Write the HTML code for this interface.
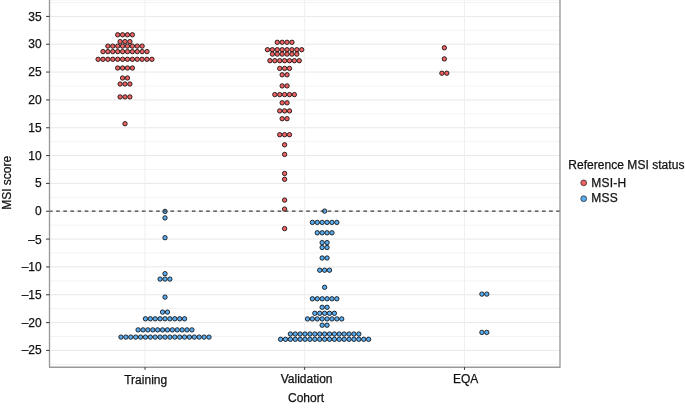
<!DOCTYPE html>
<html><head><meta charset="utf-8"><title>MSI score by cohort</title>
<style>
html,body{margin:0;padding:0;background:#fff;width:685px;height:408px;overflow:hidden}
svg{display:block}
</style></head><body>
<svg width="685" height="408" viewBox="0 0 685 408">
<rect x="0" y="0" width="685" height="408" fill="#fff"/>
<line x1="49.5" x2="560.0" y1="364.34" y2="364.34" stroke="#f3f3f3" stroke-width="1"/>
<line x1="49.5" x2="560.0" y1="350.43" y2="350.43" stroke="#e8e8e8" stroke-width="1"/>
<line x1="49.5" x2="560.0" y1="336.51" y2="336.51" stroke="#f3f3f3" stroke-width="1"/>
<line x1="49.5" x2="560.0" y1="322.59" y2="322.59" stroke="#e8e8e8" stroke-width="1"/>
<line x1="49.5" x2="560.0" y1="308.67" y2="308.67" stroke="#f3f3f3" stroke-width="1"/>
<line x1="49.5" x2="560.0" y1="294.75" y2="294.75" stroke="#e8e8e8" stroke-width="1"/>
<line x1="49.5" x2="560.0" y1="280.84" y2="280.84" stroke="#f3f3f3" stroke-width="1"/>
<line x1="49.5" x2="560.0" y1="266.92" y2="266.92" stroke="#e8e8e8" stroke-width="1"/>
<line x1="49.5" x2="560.0" y1="253.00" y2="253.00" stroke="#f3f3f3" stroke-width="1"/>
<line x1="49.5" x2="560.0" y1="239.09" y2="239.09" stroke="#e8e8e8" stroke-width="1"/>
<line x1="49.5" x2="560.0" y1="225.17" y2="225.17" stroke="#f3f3f3" stroke-width="1"/>
<line x1="49.5" x2="560.0" y1="211.25" y2="211.25" stroke="#e8e8e8" stroke-width="1"/>
<line x1="49.5" x2="560.0" y1="197.33" y2="197.33" stroke="#f3f3f3" stroke-width="1"/>
<line x1="49.5" x2="560.0" y1="183.41" y2="183.41" stroke="#e8e8e8" stroke-width="1"/>
<line x1="49.5" x2="560.0" y1="169.50" y2="169.50" stroke="#f3f3f3" stroke-width="1"/>
<line x1="49.5" x2="560.0" y1="155.58" y2="155.58" stroke="#e8e8e8" stroke-width="1"/>
<line x1="49.5" x2="560.0" y1="141.66" y2="141.66" stroke="#f3f3f3" stroke-width="1"/>
<line x1="49.5" x2="560.0" y1="127.75" y2="127.75" stroke="#e8e8e8" stroke-width="1"/>
<line x1="49.5" x2="560.0" y1="113.83" y2="113.83" stroke="#f3f3f3" stroke-width="1"/>
<line x1="49.5" x2="560.0" y1="99.91" y2="99.91" stroke="#e8e8e8" stroke-width="1"/>
<line x1="49.5" x2="560.0" y1="85.99" y2="85.99" stroke="#f3f3f3" stroke-width="1"/>
<line x1="49.5" x2="560.0" y1="72.07" y2="72.07" stroke="#e8e8e8" stroke-width="1"/>
<line x1="49.5" x2="560.0" y1="58.16" y2="58.16" stroke="#f3f3f3" stroke-width="1"/>
<line x1="49.5" x2="560.0" y1="44.24" y2="44.24" stroke="#e8e8e8" stroke-width="1"/>
<line x1="49.5" x2="560.0" y1="30.32" y2="30.32" stroke="#f3f3f3" stroke-width="1"/>
<line x1="49.5" x2="560.0" y1="16.41" y2="16.41" stroke="#e8e8e8" stroke-width="1"/>
<line x1="49.5" x2="560.0" y1="2.49" y2="2.49" stroke="#f3f3f3" stroke-width="1"/>
<line x1="145.0" x2="145.0" y1="-0.7" y2="367.2" stroke="#efefef" stroke-width="1"/>
<line x1="304.65" x2="304.65" y1="-0.7" y2="367.2" stroke="#efefef" stroke-width="1"/>
<line x1="464.5" x2="464.5" y1="-0.7" y2="367.2" stroke="#efefef" stroke-width="1"/>
<rect x="49.5" y="0" width="510.50" height="0.6" fill="#f4f4f4"/>
<g stroke="#000" stroke-width="0.8">
<circle cx="117.67" cy="34.80" r="2.2" fill="#EE6363"/>
<circle cx="122.56" cy="34.80" r="2.2" fill="#EE6363"/>
<circle cx="127.44" cy="34.80" r="2.2" fill="#EE6363"/>
<circle cx="132.34" cy="34.80" r="2.2" fill="#EE6363"/>
<circle cx="120.11" cy="41.60" r="2.2" fill="#EE6363"/>
<circle cx="125.00" cy="41.60" r="2.2" fill="#EE6363"/>
<circle cx="129.89" cy="41.60" r="2.2" fill="#EE6363"/>
<circle cx="107.89" cy="46.10" r="2.2" fill="#EE6363"/>
<circle cx="112.78" cy="46.10" r="2.2" fill="#EE6363"/>
<circle cx="117.67" cy="46.10" r="2.2" fill="#EE6363"/>
<circle cx="122.56" cy="46.10" r="2.2" fill="#EE6363"/>
<circle cx="127.44" cy="46.10" r="2.2" fill="#EE6363"/>
<circle cx="132.34" cy="46.10" r="2.2" fill="#EE6363"/>
<circle cx="137.22" cy="46.10" r="2.2" fill="#EE6363"/>
<circle cx="142.12" cy="46.10" r="2.2" fill="#EE6363"/>
<circle cx="103.00" cy="51.60" r="2.2" fill="#EE6363"/>
<circle cx="107.89" cy="51.60" r="2.2" fill="#EE6363"/>
<circle cx="112.78" cy="51.60" r="2.2" fill="#EE6363"/>
<circle cx="117.67" cy="51.60" r="2.2" fill="#EE6363"/>
<circle cx="122.56" cy="51.60" r="2.2" fill="#EE6363"/>
<circle cx="127.44" cy="51.60" r="2.2" fill="#EE6363"/>
<circle cx="132.34" cy="51.60" r="2.2" fill="#EE6363"/>
<circle cx="137.22" cy="51.60" r="2.2" fill="#EE6363"/>
<circle cx="142.12" cy="51.60" r="2.2" fill="#EE6363"/>
<circle cx="147.00" cy="51.60" r="2.2" fill="#EE6363"/>
<circle cx="98.11" cy="59.30" r="2.2" fill="#EE6363"/>
<circle cx="103.00" cy="59.30" r="2.2" fill="#EE6363"/>
<circle cx="107.89" cy="59.30" r="2.2" fill="#EE6363"/>
<circle cx="112.78" cy="59.30" r="2.2" fill="#EE6363"/>
<circle cx="117.67" cy="59.30" r="2.2" fill="#EE6363"/>
<circle cx="122.56" cy="59.30" r="2.2" fill="#EE6363"/>
<circle cx="127.44" cy="59.30" r="2.2" fill="#EE6363"/>
<circle cx="132.34" cy="59.30" r="2.2" fill="#EE6363"/>
<circle cx="137.22" cy="59.30" r="2.2" fill="#EE6363"/>
<circle cx="142.12" cy="59.30" r="2.2" fill="#EE6363"/>
<circle cx="147.00" cy="59.30" r="2.2" fill="#EE6363"/>
<circle cx="151.90" cy="59.30" r="2.2" fill="#EE6363"/>
<circle cx="117.67" cy="68.00" r="2.2" fill="#EE6363"/>
<circle cx="122.56" cy="68.00" r="2.2" fill="#EE6363"/>
<circle cx="127.44" cy="68.00" r="2.2" fill="#EE6363"/>
<circle cx="132.34" cy="68.00" r="2.2" fill="#EE6363"/>
<circle cx="122.56" cy="78.00" r="2.2" fill="#EE6363"/>
<circle cx="127.44" cy="78.00" r="2.2" fill="#EE6363"/>
<circle cx="120.11" cy="84.00" r="2.2" fill="#EE6363"/>
<circle cx="125.00" cy="84.00" r="2.2" fill="#EE6363"/>
<circle cx="129.89" cy="84.00" r="2.2" fill="#EE6363"/>
<circle cx="120.11" cy="96.90" r="2.2" fill="#EE6363"/>
<circle cx="125.00" cy="96.90" r="2.2" fill="#EE6363"/>
<circle cx="129.89" cy="96.90" r="2.2" fill="#EE6363"/>
<circle cx="125.00" cy="123.70" r="2.2" fill="#EE6363"/>
<circle cx="277.27" cy="42.30" r="2.2" fill="#EE6363"/>
<circle cx="282.16" cy="42.30" r="2.2" fill="#EE6363"/>
<circle cx="287.05" cy="42.30" r="2.2" fill="#EE6363"/>
<circle cx="291.94" cy="42.30" r="2.2" fill="#EE6363"/>
<circle cx="267.49" cy="49.70" r="2.2" fill="#EE6363"/>
<circle cx="272.38" cy="49.70" r="2.2" fill="#EE6363"/>
<circle cx="277.27" cy="49.70" r="2.2" fill="#EE6363"/>
<circle cx="282.16" cy="49.70" r="2.2" fill="#EE6363"/>
<circle cx="287.05" cy="49.70" r="2.2" fill="#EE6363"/>
<circle cx="291.94" cy="49.70" r="2.2" fill="#EE6363"/>
<circle cx="296.83" cy="49.70" r="2.2" fill="#EE6363"/>
<circle cx="301.72" cy="49.70" r="2.2" fill="#EE6363"/>
<circle cx="272.38" cy="54.10" r="2.2" fill="#EE6363"/>
<circle cx="277.27" cy="54.10" r="2.2" fill="#EE6363"/>
<circle cx="282.16" cy="54.10" r="2.2" fill="#EE6363"/>
<circle cx="287.05" cy="54.10" r="2.2" fill="#EE6363"/>
<circle cx="291.94" cy="54.10" r="2.2" fill="#EE6363"/>
<circle cx="296.83" cy="54.10" r="2.2" fill="#EE6363"/>
<circle cx="269.93" cy="60.70" r="2.2" fill="#EE6363"/>
<circle cx="274.82" cy="60.70" r="2.2" fill="#EE6363"/>
<circle cx="279.71" cy="60.70" r="2.2" fill="#EE6363"/>
<circle cx="284.60" cy="60.70" r="2.2" fill="#EE6363"/>
<circle cx="289.49" cy="60.70" r="2.2" fill="#EE6363"/>
<circle cx="294.38" cy="60.70" r="2.2" fill="#EE6363"/>
<circle cx="299.27" cy="60.70" r="2.2" fill="#EE6363"/>
<circle cx="279.71" cy="68.40" r="2.2" fill="#EE6363"/>
<circle cx="284.60" cy="68.40" r="2.2" fill="#EE6363"/>
<circle cx="289.49" cy="68.40" r="2.2" fill="#EE6363"/>
<circle cx="282.16" cy="74.80" r="2.2" fill="#EE6363"/>
<circle cx="287.05" cy="74.80" r="2.2" fill="#EE6363"/>
<circle cx="282.16" cy="85.90" r="2.2" fill="#EE6363"/>
<circle cx="287.05" cy="85.90" r="2.2" fill="#EE6363"/>
<circle cx="274.82" cy="94.60" r="2.2" fill="#EE6363"/>
<circle cx="279.71" cy="94.60" r="2.2" fill="#EE6363"/>
<circle cx="284.60" cy="94.60" r="2.2" fill="#EE6363"/>
<circle cx="289.49" cy="94.60" r="2.2" fill="#EE6363"/>
<circle cx="294.38" cy="94.60" r="2.2" fill="#EE6363"/>
<circle cx="282.16" cy="102.80" r="2.2" fill="#EE6363"/>
<circle cx="287.05" cy="102.80" r="2.2" fill="#EE6363"/>
<circle cx="279.71" cy="110.90" r="2.2" fill="#EE6363"/>
<circle cx="284.60" cy="110.90" r="2.2" fill="#EE6363"/>
<circle cx="289.49" cy="110.90" r="2.2" fill="#EE6363"/>
<circle cx="282.16" cy="118.70" r="2.2" fill="#EE6363"/>
<circle cx="287.05" cy="118.70" r="2.2" fill="#EE6363"/>
<circle cx="279.71" cy="134.70" r="2.2" fill="#EE6363"/>
<circle cx="284.60" cy="134.70" r="2.2" fill="#EE6363"/>
<circle cx="289.49" cy="134.70" r="2.2" fill="#EE6363"/>
<circle cx="284.60" cy="144.80" r="2.2" fill="#EE6363"/>
<circle cx="284.60" cy="154.40" r="2.2" fill="#EE6363"/>
<circle cx="284.60" cy="173.50" r="2.2" fill="#EE6363"/>
<circle cx="284.60" cy="179.30" r="2.2" fill="#EE6363"/>
<circle cx="284.60" cy="200.10" r="2.2" fill="#EE6363"/>
<circle cx="284.60" cy="209.10" r="2.2" fill="#EE6363"/>
<circle cx="284.60" cy="228.60" r="2.2" fill="#EE6363"/>
<circle cx="444.35" cy="47.80" r="2.2" fill="#EE6363"/>
<circle cx="444.35" cy="58.90" r="2.2" fill="#EE6363"/>
<circle cx="441.91" cy="73.20" r="2.2" fill="#EE6363"/>
<circle cx="446.80" cy="73.20" r="2.2" fill="#EE6363"/>
<circle cx="165.00" cy="211.40" r="2.2" fill="#5CACEE"/>
<circle cx="165.00" cy="217.90" r="2.2" fill="#5CACEE"/>
<circle cx="165.00" cy="237.70" r="2.2" fill="#5CACEE"/>
<circle cx="165.00" cy="273.70" r="2.2" fill="#5CACEE"/>
<circle cx="160.11" cy="279.10" r="2.2" fill="#5CACEE"/>
<circle cx="165.00" cy="279.10" r="2.2" fill="#5CACEE"/>
<circle cx="169.89" cy="279.10" r="2.2" fill="#5CACEE"/>
<circle cx="165.00" cy="297.10" r="2.2" fill="#5CACEE"/>
<circle cx="162.56" cy="312.10" r="2.2" fill="#5CACEE"/>
<circle cx="167.44" cy="312.10" r="2.2" fill="#5CACEE"/>
<circle cx="145.44" cy="318.80" r="2.2" fill="#5CACEE"/>
<circle cx="150.33" cy="318.80" r="2.2" fill="#5CACEE"/>
<circle cx="155.22" cy="318.80" r="2.2" fill="#5CACEE"/>
<circle cx="160.11" cy="318.80" r="2.2" fill="#5CACEE"/>
<circle cx="165.00" cy="318.80" r="2.2" fill="#5CACEE"/>
<circle cx="169.89" cy="318.80" r="2.2" fill="#5CACEE"/>
<circle cx="174.78" cy="318.80" r="2.2" fill="#5CACEE"/>
<circle cx="179.67" cy="318.80" r="2.2" fill="#5CACEE"/>
<circle cx="184.56" cy="318.80" r="2.2" fill="#5CACEE"/>
<circle cx="138.10" cy="329.90" r="2.2" fill="#5CACEE"/>
<circle cx="143.00" cy="329.90" r="2.2" fill="#5CACEE"/>
<circle cx="147.88" cy="329.90" r="2.2" fill="#5CACEE"/>
<circle cx="152.78" cy="329.90" r="2.2" fill="#5CACEE"/>
<circle cx="157.66" cy="329.90" r="2.2" fill="#5CACEE"/>
<circle cx="162.56" cy="329.90" r="2.2" fill="#5CACEE"/>
<circle cx="167.44" cy="329.90" r="2.2" fill="#5CACEE"/>
<circle cx="172.34" cy="329.90" r="2.2" fill="#5CACEE"/>
<circle cx="177.22" cy="329.90" r="2.2" fill="#5CACEE"/>
<circle cx="182.12" cy="329.90" r="2.2" fill="#5CACEE"/>
<circle cx="187.00" cy="329.90" r="2.2" fill="#5CACEE"/>
<circle cx="191.90" cy="329.90" r="2.2" fill="#5CACEE"/>
<circle cx="120.99" cy="337.10" r="2.2" fill="#5CACEE"/>
<circle cx="125.88" cy="337.10" r="2.2" fill="#5CACEE"/>
<circle cx="130.77" cy="337.10" r="2.2" fill="#5CACEE"/>
<circle cx="135.66" cy="337.10" r="2.2" fill="#5CACEE"/>
<circle cx="140.55" cy="337.10" r="2.2" fill="#5CACEE"/>
<circle cx="145.44" cy="337.10" r="2.2" fill="#5CACEE"/>
<circle cx="150.33" cy="337.10" r="2.2" fill="#5CACEE"/>
<circle cx="155.22" cy="337.10" r="2.2" fill="#5CACEE"/>
<circle cx="160.11" cy="337.10" r="2.2" fill="#5CACEE"/>
<circle cx="165.00" cy="337.10" r="2.2" fill="#5CACEE"/>
<circle cx="169.89" cy="337.10" r="2.2" fill="#5CACEE"/>
<circle cx="174.78" cy="337.10" r="2.2" fill="#5CACEE"/>
<circle cx="179.67" cy="337.10" r="2.2" fill="#5CACEE"/>
<circle cx="184.56" cy="337.10" r="2.2" fill="#5CACEE"/>
<circle cx="189.45" cy="337.10" r="2.2" fill="#5CACEE"/>
<circle cx="194.34" cy="337.10" r="2.2" fill="#5CACEE"/>
<circle cx="199.23" cy="337.10" r="2.2" fill="#5CACEE"/>
<circle cx="204.12" cy="337.10" r="2.2" fill="#5CACEE"/>
<circle cx="209.01" cy="337.10" r="2.2" fill="#5CACEE"/>
<circle cx="324.60" cy="211.10" r="2.2" fill="#5CACEE"/>
<circle cx="312.38" cy="222.40" r="2.2" fill="#5CACEE"/>
<circle cx="317.27" cy="222.40" r="2.2" fill="#5CACEE"/>
<circle cx="322.16" cy="222.40" r="2.2" fill="#5CACEE"/>
<circle cx="327.05" cy="222.40" r="2.2" fill="#5CACEE"/>
<circle cx="331.94" cy="222.40" r="2.2" fill="#5CACEE"/>
<circle cx="336.83" cy="222.40" r="2.2" fill="#5CACEE"/>
<circle cx="317.27" cy="232.80" r="2.2" fill="#5CACEE"/>
<circle cx="322.16" cy="232.80" r="2.2" fill="#5CACEE"/>
<circle cx="327.05" cy="232.80" r="2.2" fill="#5CACEE"/>
<circle cx="331.94" cy="232.80" r="2.2" fill="#5CACEE"/>
<circle cx="322.16" cy="242.60" r="2.2" fill="#5CACEE"/>
<circle cx="327.05" cy="242.60" r="2.2" fill="#5CACEE"/>
<circle cx="322.16" cy="247.50" r="2.2" fill="#5CACEE"/>
<circle cx="327.05" cy="247.50" r="2.2" fill="#5CACEE"/>
<circle cx="322.16" cy="258.00" r="2.2" fill="#5CACEE"/>
<circle cx="327.05" cy="258.00" r="2.2" fill="#5CACEE"/>
<circle cx="319.71" cy="270.20" r="2.2" fill="#5CACEE"/>
<circle cx="324.60" cy="270.20" r="2.2" fill="#5CACEE"/>
<circle cx="329.49" cy="270.20" r="2.2" fill="#5CACEE"/>
<circle cx="324.60" cy="287.30" r="2.2" fill="#5CACEE"/>
<circle cx="312.38" cy="298.80" r="2.2" fill="#5CACEE"/>
<circle cx="317.27" cy="298.80" r="2.2" fill="#5CACEE"/>
<circle cx="322.16" cy="298.80" r="2.2" fill="#5CACEE"/>
<circle cx="327.05" cy="298.80" r="2.2" fill="#5CACEE"/>
<circle cx="331.94" cy="298.80" r="2.2" fill="#5CACEE"/>
<circle cx="336.83" cy="298.80" r="2.2" fill="#5CACEE"/>
<circle cx="322.16" cy="307.30" r="2.2" fill="#5CACEE"/>
<circle cx="327.05" cy="307.30" r="2.2" fill="#5CACEE"/>
<circle cx="314.82" cy="313.30" r="2.2" fill="#5CACEE"/>
<circle cx="319.71" cy="313.30" r="2.2" fill="#5CACEE"/>
<circle cx="324.60" cy="313.30" r="2.2" fill="#5CACEE"/>
<circle cx="329.49" cy="313.30" r="2.2" fill="#5CACEE"/>
<circle cx="334.38" cy="313.30" r="2.2" fill="#5CACEE"/>
<circle cx="307.49" cy="318.90" r="2.2" fill="#5CACEE"/>
<circle cx="312.38" cy="318.90" r="2.2" fill="#5CACEE"/>
<circle cx="317.27" cy="318.90" r="2.2" fill="#5CACEE"/>
<circle cx="322.16" cy="318.90" r="2.2" fill="#5CACEE"/>
<circle cx="327.05" cy="318.90" r="2.2" fill="#5CACEE"/>
<circle cx="331.94" cy="318.90" r="2.2" fill="#5CACEE"/>
<circle cx="336.83" cy="318.90" r="2.2" fill="#5CACEE"/>
<circle cx="341.72" cy="318.90" r="2.2" fill="#5CACEE"/>
<circle cx="322.16" cy="325.20" r="2.2" fill="#5CACEE"/>
<circle cx="327.05" cy="325.20" r="2.2" fill="#5CACEE"/>
<circle cx="290.37" cy="334.00" r="2.2" fill="#5CACEE"/>
<circle cx="295.26" cy="334.00" r="2.2" fill="#5CACEE"/>
<circle cx="300.15" cy="334.00" r="2.2" fill="#5CACEE"/>
<circle cx="305.04" cy="334.00" r="2.2" fill="#5CACEE"/>
<circle cx="309.93" cy="334.00" r="2.2" fill="#5CACEE"/>
<circle cx="314.82" cy="334.00" r="2.2" fill="#5CACEE"/>
<circle cx="319.71" cy="334.00" r="2.2" fill="#5CACEE"/>
<circle cx="324.60" cy="334.00" r="2.2" fill="#5CACEE"/>
<circle cx="329.49" cy="334.00" r="2.2" fill="#5CACEE"/>
<circle cx="334.38" cy="334.00" r="2.2" fill="#5CACEE"/>
<circle cx="339.27" cy="334.00" r="2.2" fill="#5CACEE"/>
<circle cx="344.16" cy="334.00" r="2.2" fill="#5CACEE"/>
<circle cx="349.05" cy="334.00" r="2.2" fill="#5CACEE"/>
<circle cx="353.94" cy="334.00" r="2.2" fill="#5CACEE"/>
<circle cx="358.83" cy="334.00" r="2.2" fill="#5CACEE"/>
<circle cx="280.59" cy="339.30" r="2.2" fill="#5CACEE"/>
<circle cx="285.48" cy="339.30" r="2.2" fill="#5CACEE"/>
<circle cx="290.37" cy="339.30" r="2.2" fill="#5CACEE"/>
<circle cx="295.26" cy="339.30" r="2.2" fill="#5CACEE"/>
<circle cx="300.15" cy="339.30" r="2.2" fill="#5CACEE"/>
<circle cx="305.04" cy="339.30" r="2.2" fill="#5CACEE"/>
<circle cx="309.93" cy="339.30" r="2.2" fill="#5CACEE"/>
<circle cx="314.82" cy="339.30" r="2.2" fill="#5CACEE"/>
<circle cx="319.71" cy="339.30" r="2.2" fill="#5CACEE"/>
<circle cx="324.60" cy="339.30" r="2.2" fill="#5CACEE"/>
<circle cx="329.49" cy="339.30" r="2.2" fill="#5CACEE"/>
<circle cx="334.38" cy="339.30" r="2.2" fill="#5CACEE"/>
<circle cx="339.27" cy="339.30" r="2.2" fill="#5CACEE"/>
<circle cx="344.16" cy="339.30" r="2.2" fill="#5CACEE"/>
<circle cx="349.05" cy="339.30" r="2.2" fill="#5CACEE"/>
<circle cx="353.94" cy="339.30" r="2.2" fill="#5CACEE"/>
<circle cx="358.83" cy="339.30" r="2.2" fill="#5CACEE"/>
<circle cx="363.72" cy="339.30" r="2.2" fill="#5CACEE"/>
<circle cx="368.61" cy="339.30" r="2.2" fill="#5CACEE"/>
<circle cx="481.91" cy="294.10" r="2.2" fill="#5CACEE"/>
<circle cx="486.80" cy="294.10" r="2.2" fill="#5CACEE"/>
<circle cx="481.91" cy="332.40" r="2.2" fill="#5CACEE"/>
<circle cx="486.80" cy="332.40" r="2.2" fill="#5CACEE"/>
</g>
<line x1="49.5" x2="560.0" y1="211.15" y2="211.15" stroke="#3d3d3d" stroke-width="1.1" stroke-dasharray="3.6 3.545" stroke-dashoffset="0.5"/>
<path d="M49.5 -0.7 V367.2 H560.0 V-0.7" fill="none" stroke="#9a9a9a" stroke-width="1.35" stroke-linejoin="round"/>
<line x1="46.1" x2="49.5" y1="350.43" y2="350.43" stroke="#333" stroke-width="1"/>
<line x1="46.1" x2="49.5" y1="322.59" y2="322.59" stroke="#333" stroke-width="1"/>
<line x1="46.1" x2="49.5" y1="294.75" y2="294.75" stroke="#333" stroke-width="1"/>
<line x1="46.1" x2="49.5" y1="266.92" y2="266.92" stroke="#333" stroke-width="1"/>
<line x1="46.1" x2="49.5" y1="239.09" y2="239.09" stroke="#333" stroke-width="1"/>
<line x1="46.1" x2="49.5" y1="211.25" y2="211.25" stroke="#333" stroke-width="1"/>
<line x1="46.1" x2="49.5" y1="183.41" y2="183.41" stroke="#333" stroke-width="1"/>
<line x1="46.1" x2="49.5" y1="155.58" y2="155.58" stroke="#333" stroke-width="1"/>
<line x1="46.1" x2="49.5" y1="127.75" y2="127.75" stroke="#333" stroke-width="1"/>
<line x1="46.1" x2="49.5" y1="99.91" y2="99.91" stroke="#333" stroke-width="1"/>
<line x1="46.1" x2="49.5" y1="72.07" y2="72.07" stroke="#333" stroke-width="1"/>
<line x1="46.1" x2="49.5" y1="44.24" y2="44.24" stroke="#333" stroke-width="1"/>
<line x1="46.1" x2="49.5" y1="16.41" y2="16.41" stroke="#333" stroke-width="1"/>
<line x1="145.0" x2="145.0" y1="367.2" y2="369.8" stroke="#333" stroke-width="1"/>
<line x1="304.65" x2="304.65" y1="367.2" y2="369.8" stroke="#333" stroke-width="1"/>
<line x1="464.5" x2="464.5" y1="367.2" y2="369.8" stroke="#333" stroke-width="1"/>
<g font-family="&quot;Liberation Sans&quot;, Arial, Helvetica, sans-serif" font-size="12" fill="#111" stroke="#111" stroke-width="0.25" text-anchor="end">
<text x="41.7" y="353.93">–25</text>
<text x="41.7" y="326.64">–20</text>
<text x="41.7" y="298.81">–15</text>
<text x="41.7" y="270.97">–10</text>
<text x="41.7" y="243.53">–5</text>
<text x="41.7" y="214.80">0</text>
<text x="41.7" y="187.46">5</text>
<text x="41.7" y="159.63">10</text>
<text x="41.7" y="131.79">15</text>
<text x="41.7" y="103.96">20</text>
<text x="41.7" y="76.12">25</text>
<text x="41.7" y="48.29">30</text>
<text x="41.7" y="20.76">35</text>
</g>
<g font-family="&quot;Liberation Sans&quot;, Arial, Helvetica, sans-serif" font-size="12" fill="#111" stroke="#111" stroke-width="0.25" text-anchor="middle">
<text x="145.7" y="383.5">Training</text>
<text x="306.6" y="383.3">Validation</text>
<text x="465.6" y="383.3">EQA</text>
<text x="306.0" y="401.9">Cohort</text>
</g>
<text font-family="&quot;Liberation Sans&quot;, Arial, Helvetica, sans-serif" font-size="12" fill="#111" stroke="#111" stroke-width="0.25" text-anchor="middle" transform="translate(11.1 182.8) rotate(-90)">MSI score</text>
<text font-family="&quot;Liberation Sans&quot;, Arial, Helvetica, sans-serif" font-size="12" fill="#111" stroke="#111" stroke-width="0.25" x="568.25" y="168.7" letter-spacing="0.04">Reference MSI status</text>
<circle cx="583.7" cy="182.85" r="2.9" fill="#EE6363" stroke="#1a1a1a" stroke-width="0.7"/>
<circle cx="583.7" cy="198.7" r="2.9" fill="#5CACEE" stroke="#1a1a1a" stroke-width="0.7"/>
<text font-family="&quot;Liberation Sans&quot;, Arial, Helvetica, sans-serif" font-size="12" fill="#111" stroke="#111" stroke-width="0.25" x="591.2" y="186.6" letter-spacing="0.25">MSI-H</text>
<text font-family="&quot;Liberation Sans&quot;, Arial, Helvetica, sans-serif" font-size="12" fill="#111" stroke="#111" stroke-width="0.25" x="591.2" y="201.7" letter-spacing="0.3">MSS</text>
</svg>
</body></html>
